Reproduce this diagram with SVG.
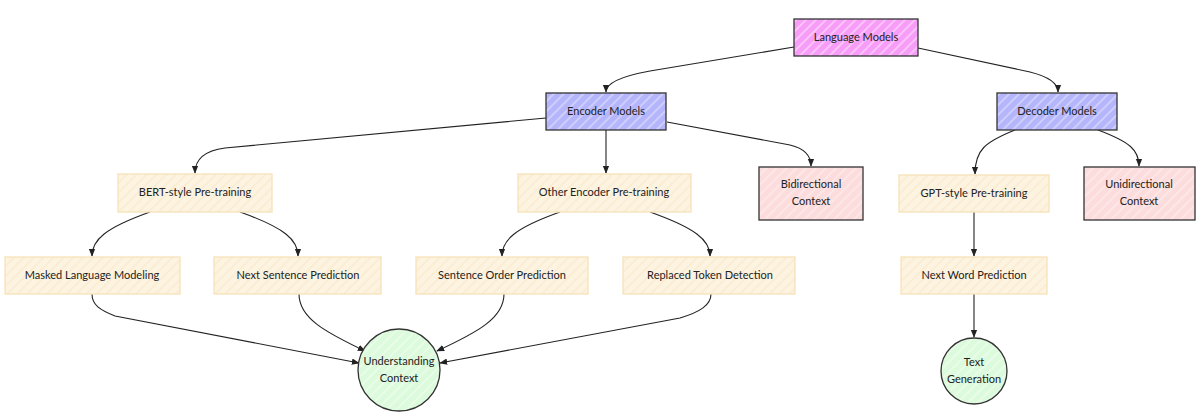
<svg xmlns="http://www.w3.org/2000/svg" width="1200" height="417" viewBox="0 0 1200 417">
<defs>
<style>
text{font-family:Lato,"Open Sans","DejaVu Sans",sans-serif;font-size:11px;fill:#222;text-anchor:middle;dominant-baseline:middle}
.dark{stroke:#333;stroke-width:1.3}
.cream{stroke:#f6e2b8;stroke-width:1.3}
.edge{fill:none;stroke:#222;stroke-width:1.1;marker-end:url(#arr)}
</style>
<pattern id="pMag" width="7" height="7" patternUnits="userSpaceOnUse" patternTransform="rotate(45)"><rect width="7" height="7" fill="#f79cf7"/><line x1="3" y1="0" x2="3" y2="7" stroke="#fde4fd" stroke-width="1.1"/></pattern>
<pattern id="pBlue" width="7" height="7" patternUnits="userSpaceOnUse" patternTransform="rotate(45)"><rect width="7" height="7" fill="#b5b5fb"/><line x1="3" y1="0" x2="3" y2="7" stroke="#e4e4ff" stroke-width="1.1"/></pattern>
<pattern id="pCream" width="7" height="7" patternUnits="userSpaceOnUse" patternTransform="rotate(45)"><rect width="7" height="7" fill="#fdf3e1"/><line x1="3" y1="0" x2="3" y2="7" stroke="#f8e6c4" stroke-width="0.9"/></pattern>
<pattern id="pPink" width="7" height="7" patternUnits="userSpaceOnUse" patternTransform="rotate(45)"><rect width="7" height="7" fill="#fcdcdc"/><line x1="3" y1="0" x2="3" y2="7" stroke="#fff0f0" stroke-width="1.1"/></pattern>
<pattern id="pGreen" width="7" height="7" patternUnits="userSpaceOnUse" patternTransform="rotate(45)"><rect width="7" height="7" fill="#dcfadc"/><line x1="3" y1="0" x2="3" y2="7" stroke="#f2fff2" stroke-width="1.1"/></pattern>
<marker id="arr" viewBox="0 0 10 10" refX="9" refY="5" markerWidth="8" markerHeight="8" markerUnits="userSpaceOnUse" orient="auto"><path d="M0,1 L10,5 L0,9 z" fill="#222"/></marker>
</defs>
<g id="connectors">
<path class="edge" d="M794,47 L650,71 Q606,79 606,92"/>
<path class="edge" d="M918,48 L1030,72 Q1058,79 1058,92"/>
<path class="edge" d="M546,118 L225,148 Q195,152 195,173"/>
<path class="edge" d="M606,130 L606,173"/>
<path class="edge" d="M667,122 L790,145 Q811,150 811,166"/>
<path class="edge" d="M1015,130 C985,142 975,150 975,174"/>
<path class="edge" d="M1098,130 C1130,142 1139,150 1139,166"/>
<path class="edge" d="M150,212 C105,228 92,240 92,256"/>
<path class="edge" d="M240,212 C285,228 298,240 298,256"/>
<path class="edge" d="M560,212 C515,228 502,240 502,256"/>
<path class="edge" d="M650,212 C695,228 710,240 710,256"/>
<path class="edge" d="M974,212 L974,256"/>
<path class="edge" d="M974,294 L974,337"/>
<path class="edge" d="M92,294 C92,305 100,310 115,316 L359,363"/>
<path class="edge" d="M299,294 C299,318 325,332 365,351"/>
<path class="edge" d="M504,294 C504,318 478,332 437,351"/>
<path class="edge" d="M711,294 C711,305 700,312 680,318 L440,363"/>
</g>
<g id="lm"><rect x="794" y="19" width="124" height="37" fill="url(#pMag)" class="dark"/><text x="856" y="38">Language Models</text></g>
<g id="enc"><rect x="546" y="93" width="120" height="37" fill="url(#pBlue)" class="dark"/><text x="606" y="112">Encoder Models</text></g>
<g id="dec"><rect x="997" y="93" width="120" height="37" fill="url(#pBlue)" class="dark"/><text x="1057" y="112">Decoder Models</text></g>
<g id="bert"><rect x="118" y="174" width="154" height="38" fill="url(#pCream)" class="cream"/><text x="195" y="193">BERT-style Pre-training</text></g>
<g id="other"><rect x="518" y="174" width="173" height="38" fill="url(#pCream)" class="cream"/><text x="604" y="193">Other Encoder Pre-training</text></g>
<g id="bidir"><rect x="759" y="167" width="104" height="53" fill="url(#pPink)" class="dark"/><text x="811" y="185">Bidirectional</text><text x="811" y="202">Context</text></g>
<g id="gpt"><rect x="899" y="175" width="150" height="37" fill="url(#pCream)" class="cream"/><text x="974" y="194">GPT-style Pre-training</text></g>
<g id="uni"><rect x="1084" y="167" width="111" height="53" fill="url(#pPink)" class="dark"/><text x="1139" y="185">Unidirectional</text><text x="1139" y="202">Context</text></g>
<g id="mlm"><rect x="5" y="257" width="175" height="37" fill="url(#pCream)" class="cream"/><text x="92" y="276">Masked Language Modeling</text></g>
<g id="nsp"><rect x="214" y="257" width="167" height="37" fill="url(#pCream)" class="cream"/><text x="298" y="276">Next Sentence Prediction</text></g>
<g id="sop"><rect x="416" y="257" width="172" height="37" fill="url(#pCream)" class="cream"/><text x="502" y="276">Sentence Order Prediction</text></g>
<g id="rtd"><rect x="623" y="257" width="172" height="37" fill="url(#pCream)" class="cream"/><text x="710" y="276">Replaced Token Detection</text></g>
<g id="nwp"><rect x="901" y="257" width="146" height="37" fill="url(#pCream)" class="cream"/><text x="974" y="276">Next Word Prediction</text></g>
<g id="uc"><circle cx="399" cy="370" r="41" fill="url(#pGreen)" class="dark"/><text x="399" y="362">Understanding</text><text x="399" y="379">Context</text></g>
<g id="tg"><circle cx="974" cy="371" r="33" fill="url(#pGreen)" class="dark"/><text x="974" y="363">Text</text><text x="974" y="380">Generation</text></g>
</svg>
